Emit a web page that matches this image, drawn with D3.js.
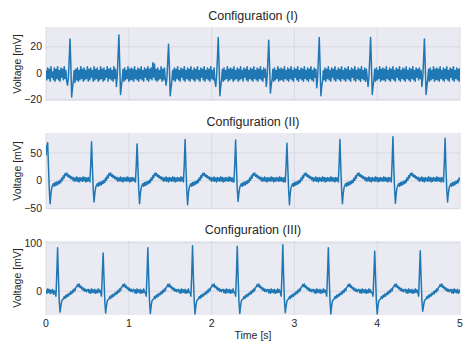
<!DOCTYPE html>
<html>
<head>
<meta charset="utf-8">
<script src="https://cdn.jsdelivr.net/npm/d3@7"></script>
<style>
  body { margin: 0; background: #fff; }
  text { font-family: "Liberation Sans", Arial, sans-serif; fill: #262626; }
</style>
</head>
<body>
<svg width="474" height="355"></svg>
<script>
/* sample step of the recordings, seconds */
var dt = 0.01;

var titles = ["Configuration (I)", "Configuration (II)", "Configuration (III)"];

// configuration I, mV
var ecg1 = [
2,-5,4,-4,3,-6,5,-3,1,-5,
4,-6,3,-4,5,-5,2,-6,4,-3,
3,-5,5,-4,2,-6,
-9,-4,10,26,6,-18,-11,-6,
2,-7,3,-5,4,-6,2,-5,5,-4,
3,-6,4,-5,2,-4,5,-6,3,-5,
4,-3,2,-6,5,-5,3,-4,4,-6,
2,-5,5,-4,3,-6,4,-5,2,-3,
5,-6,3,-4,4,-5,2,-6,5,-4,3,
-10,-3,12,29,8,-16,-10,-5,
3,-6,4,-5,2,-4,5,-6,3,-5,
4,-5,3,-6,5,-4,2,-5,4,-6,
3,-4,5,-5,2,-6,4,-3,3,-5,
5,-6,3,-4,4,-5,8,-3,7,-5,
3,-6,4,-5,2,-4,5,-6,3,-5,4,-4,
-9,-4,9,22,5,-17,-11,-6,
2,-5,4,-6,3,-4,5,-5,2,-6,
4,-3,3,-5,5,-6,2,-4,4,-5,
3,-6,5,-4,2,-5,4,-6,3,-4,
5,-5,2,-6,4,-3,3,-5,5,-6,
2,-4,4,-5,3,-6,5,-4,2,-5,4,-6,
-10,-3,11,27,7,-17,-10,-5,
3,-6,4,-5,2,-4,5,-6,3,-5,
4,-4,3,-6,5,-5,2,-4,4,-6,
3,-5,5,-4,2,-6,4,-3,3,-5,
5,-6,2,-4,4,-5,3,-6,5,-4,
2,-5,4,-6,3,-4,5,-5,2,-6,4,-3,3,
-10,-4,10,25,6,-15,-9,-5,
3,-6,4,-5,2,-4,5,-6,3,-5,
4,-5,3,-6,5,-4,2,-5,4,-6,
3,-4,5,-5,2,-6,4,-3,3,-5,
5,-6,2,-4,4,-5,3,-6,5,-4,
2,-5,4,-6,3,-4,5,-5,2,-6,4,-3,3,
-11,-4,11,27,6,-17,-10,-6,
2,-5,4,-6,3,-4,5,-5,2,-6,
4,-3,3,-5,5,-6,2,-4,4,-5,
3,-6,5,-4,2,-5,4,-6,3,-4,
5,-5,2,-6,4,-3,3,-5,5,-6,
2,-4,4,-5,3,-6,5,-4,2,-5,4,-6,3,-4,
-10,-3,11,27,7,-16,-10,-5,
3,-6,4,-5,2,-4,5,-6,3,-5,
4,-5,3,-6,5,-4,2,-5,4,-6,
3,-4,5,-5,2,-6,4,-3,3,-5,
5,-6,2,-4,4,-5,3,-6,5,-4,
2,-5,4,-6,3,-4,5,-5,2,-6,4,-3,3,-5,4,-4,2,
-10,-4,10,26,6,-16,-10,-5,
3,-6,4,-5,2,-4,5,-6,3,-5,
4,-5,3,-6,5,-4,2,-5,4,-6,
3,-4,5,-5,2,-6,4,-3,3,-5,
5,-6,2,-4,4,-5,3,-6,4
];

// configuration II, mV
var ecg2 = [
45,62,68,25,-15,-41,-22,-12,-8,
-5,-10,-3,-8,-2,-7,-1,-5, 1,-3,5,1,9,5,13,10, 14,8,11,6,9,4,7,2,
6,-1,5,0,7,-1,5,-2,6,0,5,-1,7,0,6,-2,5,-1,6,0,
-2,28,70,25,-15,-38,-22,-12,-8,
-5,-10,-3,-8,-2,-7,-1,-5, 1,-3,5,1,9,5,13,10, 14,8,11,6,9,4,7,2,
6,-1,5,0,7,-1,5,-2,6,0,5,-1,7,0,6,-2,5,-1,6,0,5,-1,
-2,28,66,25,-15,-41,-22,-12,-8,
-5,-10,-3,-8,-2,-7,-1,-5, 1,-3,5,1,9,5,13,10, 14,8,11,6,9,4,7,2,
6,-1,5,0,7,-1,5,-2,6,0,5,-1,7,0,6,-2,5,-1,6,0,5,-1,7,0,6,
-2,30,74,25,-15,-43,-22,-12,-8,
-5,-10,-3,-8,-2,-7,-1,-5, 1,-3,5,1,9,5,13,10, 14,8,11,6,9,4,7,2,
6,-1,5,0,7,-1,5,-2,6,0,5,-1,7,0,6,-2,5,-1,6,0,5,-1,7,0,6,-1,5,-2,
-2,30,73,25,-15,-37,-22,-12,-8,
-5,-10,-3,-8,-2,-7,-1,-5, 1,-3,5,1,9,5,13,10, 14,8,11,6,9,4,7,2,
6,-1,5,0,7,-1,5,-2,6,0,5,-1,7,0,6,-2,5,-1,6,0,5,-1,7,0,6,-1,5,-2,6,
-2,28,67,25,-15,-43,-22,-12,-8,
-5,-10,-3,-8,-2,-7,-1,-5, 1,-3,5,1,9,5,13,10, 14,8,11,6,9,4,7,2,
6,-1,5,0,7,-1,5,-2,6,0,5,-1,7,0,6,-2,5,-1,6,0,5,-1,7,0,6,-1,5,-2,6,0,5,
-2,30,74,25,-15,-41,-22,-12,-8,
-5,-10,-3,-8,-2,-7,-1,-5, 1,-3,5,1,9,5,13,10, 14,8,11,6,9,4,7,2,
6,-1,5,0,7,-1,5,-2,6,0,5,-1,7,0,6,-2,5,-1,6,0,5,-1,7,0,6,-1,5,-2,6,0,5,
-2,32,79,25,-15,-40,-22,-12,-8,
-5,-10,-3,-8,-2,-7,-1,-5, 1,-3,5,1,9,5,13,10, 14,8,11,6,9,4,7,2,
6,-1,5,0,7,-1,5,-2,6,0,5,-1,7,0,6,-2,5,-1,6,0,5,-1,7,0,6,-1,5,-2,6,0,
-2,30,76,25,-15,-38,-22,-12,-8,
-5,-10,-3,-8,-2,-7,-1,-5, 1,-3,5,1
];

// configuration III, mV
var ecg3 = [
3,-4,5,-2,4,-5,2,-3,4,-6,1,
-3,-10,35,90,30,-20,-43,-30,-20,-17, -16,-11,-15,-8,-12,-6,-10,-4, -7,-1,-5,2,-2,5,1,8, 9,14,10,15,8,11,5,8, 2,6,0,4,-1,3,
4,-3,3,-4,5,-2,3,-3,4,-4,2,-3,5,-2,3,
-3,-10,35,79,30,-20,-45,-30,-20,-17, -16,-11,-15,-8,-12,-6,-10,-4, -7,-1,-5,2,-2,5,1,8, 9,14,10,15,8,11,5,8, 2,6,0,4,-1,3,
4,-3,3,-4,5,-2,3,-3,4,-4,2,-3,5,-2,
-3,-10,35,90,30,-20,-46,-30,-20,-17, -16,-11,-15,-8,-12,-6,-10,-4, -7,-1,-5,2,-2,5,1,8, 9,14,10,15,8,11,5,8, 2,6,0,4,-1,3,
4,-3,3,-4,5,-2,3,-3,4,-4,2,-3,5,-2,
-3,-10,35,94,30,-20,-47,-30,-20,-17, -16,-11,-15,-8,-12,-6,-10,-4, -7,-1,-5,2,-2,5,1,8, 9,14,10,15,8,11,5,8, 2,6,0,4,-1,3,
4,-3,3,-4,5,-2,3,-3,4,-4,2,-3,5,-2,
-3,-10,35,93,30,-20,-46,-30,-20,-17, -16,-11,-15,-8,-12,-6,-10,-4, -7,-1,-5,2,-2,5,1,8, 9,14,10,15,8,11,5,8, 2,6,0,4,-1,3,
4,-3,3,-4,5,-2,3,-3,4,-4,2,-3,5,-2,3,
-3,-10,35,96,30,-20,-44,-30,-20,-17, -16,-11,-15,-8,-12,-6,-10,-4, -7,-1,-5,2,-2,5,1,8, 9,14,10,15,8,11,5,8, 2,6,0,4,-1,3,
4,-3,3,-4,5,-2,3,-3,4,-4,2,-3,5,-2,3,
-3,-10,35,90,30,-20,-47,-30,-20,-17, -16,-11,-15,-8,-12,-6,-10,-4, -7,-1,-5,2,-2,5,1,8, 9,14,10,15,8,11,5,8, 2,6,0,4,-1,3,
4,-3,3,-4,5,-2,3,-3,4,-4,2,-3,5,-2,3,-3,
-3,-10,35,83,30,-20,-47,-30,-20,-17, -16,-11,-15,-8,-12,-6,-10,-4, -7,-1,-5,2,-2,5,1,8, 9,14,10,15,8,11,5,8, 2,6,0,4,-1,3,
4,-3,3,-4,5,-2,3,-3,4,-4,2,-3,5,-2,3,
-3,-10,35,84,30,-20,-41,-30,-20,-17, -16,-11,-15,-8,-12,-6,-10,-4, -7,-1,-5,2,-2,5,1,8, 9,14,10,15,8,11,5,8, 2,6,0,4,-1,3,
4,-3,3,-4,5,-2,3,-3,4,-4,2,-3
];

var yDomains = [[-21, 35], [-50.5, 85.5], [-49, 104]];
var yTicks = [[-20, 0, 20], [-50, 0, 50], [0, 100]];
var xTicks = [0, 1, 2, 3, 4, 5];

var series = [ecg1, ecg2, ecg3];

var svg = d3.select("svg"),
    left = 46, right = 460,
    tops = [27, 133, 241],
    heights = [74, 76, 74];

var xScale = d3.scaleLinear()
	.domain([0, 5])
	.range([left, right]);

series.forEach(function(data, k) {
	var top = tops[k], h = heights[k];

	var yScale = d3.scaleLinear()
		.domain(yDomains[k])
		.range([top + h, top]);

	var g = svg.append("g");

	g.append("rect")
		.attr("x", left).attr("y", top)
		.attr("width", right - left).attr("height", h)
		.attr("fill", "#eaeaf2");

	g.selectAll(".gx").data(xTicks).enter().append("line")
		.attr("x1", function(d) { return xScale(d); })
		.attr("x2", function(d) { return xScale(d); })
		.attr("y1", top).attr("y2", top + h)
		.attr("stroke", "#d6d6e0").attr("stroke-width", 0.8);

	g.selectAll(".gy").data(yTicks[k]).enter().append("line")
		.attr("x1", left).attr("x2", right)
		.attr("y1", function(d) { return yScale(d); })
		.attr("y2", function(d) { return yScale(d); })
		.attr("stroke", "#d6d6e0").attr("stroke-width", 0.8);

	svg.append("clipPath").attr("id", "clip" + k)
		.append("rect")
		.attr("x", left).attr("y", top)
		.attr("width", right - left).attr("height", h);

	var lineFunction = d3.line()
		.x(function(d, i) { return xScale(i * dt); })
		.y(function(d) { return yScale(d); });

	g.append("path")
		.attr("d", lineFunction(data))
		.attr("clip-path", "url(#clip" + k + ")")
		.attr("stroke", "#1f77b4")
		.attr("stroke-width", 1.5)
		.attr("stroke-linejoin", "round")
		.attr("fill", "none");

	g.selectAll(".ty").data(yTicks[k]).enter().append("text")
		.attr("x", 42)
		.attr("y", function(d) { return yScale(d); })
		.attr("dy", "0.35em")
		.attr("text-anchor", "end")
		.style("font-size", "10.5px")
		.text(function(d) { return d < 0 ? "\u2212" + Math.abs(d) : d; });

	g.append("text")
		.attr("transform", "translate(17," + (top + h / 2) + ") rotate(-90)")
		.attr("text-anchor", "middle")
		.attr("dy", "0.35em")
		.style("font-size", "10.5px")
		.text("Voltage [mV]");

	g.append("text")
		.attr("x", (left + right) / 2)
		.attr("y", top - 7)
		.attr("text-anchor", "middle")
		.style("font-size", "12.5px")
		.text(titles[k]);

	if (k == 2) {
		g.selectAll(".tx").data(xTicks).enter().append("text")
			.attr("x", function(d) { return xScale(d); })
			.attr("y", top + h + 12)
			.attr("text-anchor", "middle")
			.style("font-size", "10.5px")
			.text(function(d) { return d; });

		g.append("text")
			.attr("x", (left + right) / 2)
			.attr("y", 339)
			.attr("text-anchor", "middle")
			.style("font-size", "10.5px")
			.text("Time [s]");
	}
});
</script>
</body>
</html>
